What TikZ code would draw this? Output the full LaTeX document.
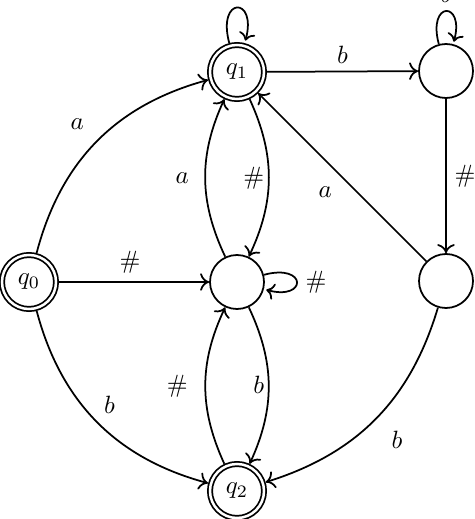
\documentclass[tikz,border=0pt]{standalone}
\usetikzlibrary{arrows.meta}
\begin{document}
\begin{tikzpicture}[x=0.4pt,y=-0.4pt,
  st/.style={circle, draw, minimum size=21.6pt, inner sep=0pt, line width=0.7pt},
  acc/.style={st, double, double distance=1pt, outer sep=1.2pt},
  lbl/.style={inner sep=0pt, anchor=center},
  arr/.style={-{To[length=3.6pt,width=7pt]}, line width=0.7pt}]
\useasboundingbox (0,0) rectangle (474,519);
\node[acc] (q0) at (29,282) {$q_0$};
\node[acc] (q1) at (237,72) {$q_1$};
\node[st]  (m)  at (237,282) {};
\node[acc] (q2) at (237,491) {$q_2$};
\node[st]  (t)  at (446,71) {};
\node[st]  (r)  at (446,281) {};
% edges from q0
\draw[arr] (q0) to[bend left=30] node[lbl,midway,xshift=-7.9pt,yshift=6.7pt]{$a$} (q1);
\draw[arr] (q0) -- node[lbl,midway,xshift=-1.6pt,yshift=8pt]{$\#$} (m);
\draw[arr] (q0) to[bend right=30] node[lbl,midway,xshift=4.9pt,yshift=6.9pt]{$b$} (q2);
% q1 <-> m
\draw[arr] (q1) to[bend left=25] node[lbl,midway,xshift=-6pt]{$\#$} (m);
\draw[arr] (m) to[bend left=25] node[lbl,midway,xshift=-9.2pt]{$a$} (q1);
% m <-> q2
\draw[arr] (m) to[bend left=25] node[lbl,midway,xshift=-4pt,yshift=0.4pt]{$b$} (q2);
\draw[arr] (q2) to[bend left=25] node[lbl,midway,xshift=-11.2pt,yshift=-0.4pt]{$\#$} (m);
% right part
\draw[arr] (q1) -- node[lbl,midway,yshift=6.6pt]{$b$} (t);
\draw[arr] (t) -- node[lbl,midway,xshift=7.6pt]{$\#$} (r);
\draw[arr] (r) -- node[lbl,midway,xshift=-6.8pt,yshift=-6pt]{$a$} (q1);
\draw[arr] (r) to[bend left=28] node[lbl,midway,xshift=8.4pt,yshift=-8.4pt]{$b$} (q2);
% loops
\path (q1) edge[arr, loop above] node[above]{$a$} ();
\path (t) edge[arr, loop above] node[above]{$b$} ();
\path (m) edge[arr, loop right] node[right]{$\#$} ();
\end{tikzpicture}
\end{document}
